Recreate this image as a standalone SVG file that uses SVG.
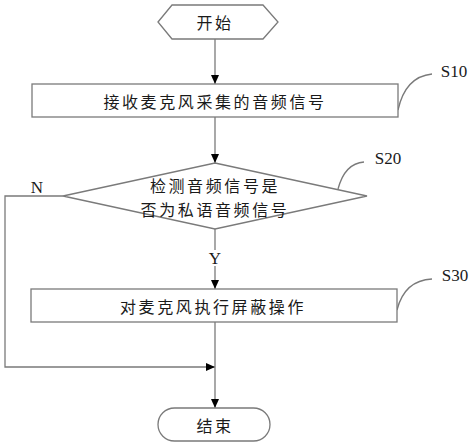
<svg xmlns="http://www.w3.org/2000/svg" width="474" height="447" viewBox="0 0 474 447">
<style>
.shape{fill:#fff;stroke:#7a7a7a;stroke-width:1.3}
.line{fill:none;stroke:#7a7a7a;stroke-width:1.3}
.cn{font-family:"Noto Sans CJK SC","Noto Sans CJK JP",sans-serif;font-size:16px;letter-spacing:2.6px;fill:#1a1a1a;text-anchor:middle;dominant-baseline:central}
.lbl{font-family:"Liberation Serif",serif;font-size:17px;fill:#1a1a1a;text-anchor:middle;dominant-baseline:central}
</style>
<defs>
<marker id="arr" markerWidth="10" markerHeight="10" refX="9" refY="4" orient="auto" markerUnits="userSpaceOnUse">
<path d="M0,0 L9,4 L0,8 Z" fill="#000"/>
</marker>
</defs>
<g id="connectors">
<line class="line" x1="215" y1="39" x2="215" y2="84" marker-end="url(#arr)"/>
<line class="line" x1="215" y1="117" x2="215" y2="163" marker-end="url(#arr)"/>
<line class="line" x1="215" y1="229" x2="215" y2="250"/>
<line class="line" x1="215" y1="266" x2="215" y2="289" marker-end="url(#arr)"/>
<polyline class="line" points="63,196 5,196 5,367 215,367" marker-end="url(#arr)"/>
<line class="line" x1="215" y1="322" x2="215" y2="408" marker-end="url(#arr)"/>
<path class="line" d="M398,110 C402,92 412,76 432,74"/>
<path class="line" d="M338,189 C342,174 350,163 364,162"/>
<path class="line" d="M397,310 C401,294 411,280 432,279"/>
<text class="lbl" x="37" y="187">N</text>
<text class="lbl" x="215" y="258">Y</text>
</g>
<g id="start">
<polygon class="shape" points="158,22 172,5 263,5 278,22 263,39 172,39"/>
<text class="cn" x="215" y="22">开始</text>
</g>
<g id="s10">
<rect class="shape" x="32" y="84" width="366" height="33"/>
<text class="cn" x="215" y="100.5">接收麦克风采集的音频信号</text>
<text class="lbl" x="454" y="71">S10</text>
</g>
<g id="s20">
<polygon class="shape" points="215,163 367,196 215,229 63,196"/>
<text class="cn" x="215" y="185">检测音频信号是</text>
<text class="cn" x="215" y="209">否为私语音频信号</text>
<text class="lbl" x="388" y="158">S20</text>
</g>
<g id="s30">
<rect class="shape" x="31" y="289" width="366" height="33"/>
<text class="cn" x="213" y="305.5">对麦克风执行屏蔽操作</text>
<text class="lbl" x="455" y="275">S30</text>
</g>
<g id="end">
<rect class="shape" x="158" y="408" width="112" height="33" rx="16.5" ry="16.5"/>
<text class="cn" x="215" y="424.5">结束</text>
</g>
</svg>
